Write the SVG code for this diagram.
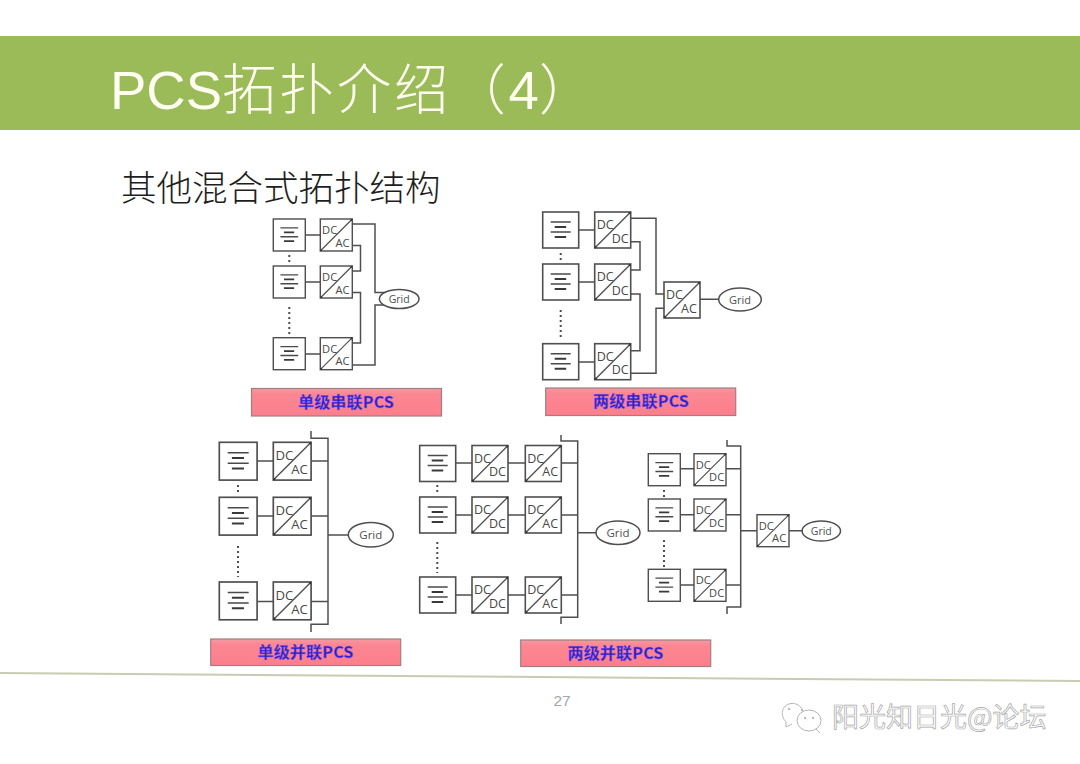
<svg xmlns="http://www.w3.org/2000/svg" width="1080" height="764" viewBox="0 0 1080 764">
<style>
.box{fill:#fff;stroke:#4f4f4f;stroke-width:1.6}
.c{stroke:#4f4f4f;stroke-width:1.5;fill:none}
.d{stroke:#4f4f4f;stroke-width:2;fill:none;stroke-dasharray:2 3}
.diag{stroke:#4f4f4f;stroke-width:1.3;fill:none}
.t{font-family:"Open Sans","Liberation Sans",sans-serif;font-size:12.500px;fill:#484848}
.g{font-family:"Open Sans","Liberation Sans",sans-serif;fill:#4f4f4f;text-anchor:middle}
.grid{fill:#fff;stroke:#4f4f4f;stroke-width:1.5}
.l{fill:url(#pk);stroke:#a07f80;stroke-width:1.200}
.lt{font-family:"Noto Sans CJK SC","Liberation Sans",sans-serif;font-weight:700;font-size:16px;letter-spacing:.2px;fill:#2a1fc8;text-anchor:middle;stroke:#a060e0;stroke-width:.4}
</style>
<defs>
<linearGradient id="pk" x1="0" y1="0" x2="0" y2="1"><stop offset="0" stop-color="#f39aa2"/><stop offset=".2" stop-color="#fb8793"/><stop offset="1" stop-color="#fd7e8c"/></linearGradient>
<g id="bat"><rect class="box" width="36" height="36"/><path stroke="#4a4a4a" stroke-width="1.5" fill="none" d="M8 10H28M8 20H28"/><path stroke="#3a3a3a" stroke-width="2" fill="none" d="M12 15H23.500M12 25H23.500"/></g>
<g id="conv"><rect class="box" width="36" height="36"/><path class="diag" d="M0 36L36 0"/><circle cx="1" cy="35" r="1.100" fill="#333"/><circle cx="35" cy="1" r="1.100" fill="#333"/></g>
</defs>
<rect width="1080" height="764" fill="#fff"/>
<rect y="36" width="1080" height="94" fill="#9bbb59"/>
<text x="110" y="109" font-family="'Liberation Sans','Noto Sans CJK SC',sans-serif" font-size="54.500" font-weight="400" fill="#fdfdf0">PCS<tspan font-family="'Noto Sans CJK SC',sans-serif" font-weight="300" letter-spacing="2.800">拓扑介绍（</tspan>4<tspan font-family="'Noto Sans CJK SC',sans-serif" font-weight="300">）</tspan></text>
<text x="121" y="201" font-family="'Noto Sans CJK SC',sans-serif" font-weight="300" font-size="35.500" fill="#1e1e1e">其他混合式拓扑结构</text>
<path d="M0 673L1080 681" stroke="#c9ccb2" stroke-width="2"/>
<text x="562" y="706" font-family="'Liberation Sans',sans-serif" font-size="15.500" fill="#a6a6a6" text-anchor="middle">27</text>

<g id="connectors">
<path class="c" d="M305 235H320M305 282H320M305 354H320M352 224H375V292.500H388M352 365H375V305H388M352 245.500H360.500V271H352M352 292.500H360.500V343H352"/>
<path class="d" d="M289.300 255V263M289.300 307V334"/>
<path class="c" d="M579 230H595M579 282H595M579 362H595M631 218.300H656V294H664M631 373.300H656V308.300H664M631 241.700H640V270H631M631 294H640V350.700H631M700 299.300H719"/>
<path class="d" d="M560.700 253V262M560.700 310V339"/>
<path class="c" d="M257 461H274M257 516H274M257 601.500H274M311 461H328M311 516H328M311 601.500H328M311 431V438.300H328V624.300H311V632M328 535H349"/>
<path class="d" d="M238 485V494M238 546V577"/>
<path class="c" d="M456 463H472M456 515H472M456 595H472M508 463H525M508 515H525M508 595H525M561 463H578M561 515H578M561 595H578M561 435V441H577.700V617.300H561V624M578 532.700H597"/>
<path class="d" d="M437.300 485V494M437.300 542V573"/>
<path class="c" d="M680 468.700H694M680 514.700H694M680 585H694M726 468.700H741M726 514.700H741M726 585H741M727 440V446H740.700V607H727V614M741 530.700H757M789 530.700H803"/>
<path class="d" d="M664 490V497M664 540V567"/>
</g>

<g id="series-single">
<g id="ss-b1" transform="translate(273.300,219) scale(.889)"><use href="#bat"/></g>
<g id="ss-b2" transform="translate(273.300,266) scale(.889)"><use href="#bat"/></g>
<g id="ss-b3" transform="translate(273.300,337.700) scale(.889)"><use href="#bat"/></g>
<g id="ss-c1" transform="translate(320.300,219) scale(.889)"><use href="#conv"/><text class="t" x="2" y="17">DC</text><text class="t" x="17" y="31">AC</text></g>
<g id="ss-c2" transform="translate(320.300,266) scale(.889)"><use href="#conv"/><text class="t" x="2" y="17">DC</text><text class="t" x="17" y="31">AC</text></g>
<g id="ss-c3" transform="translate(320.300,337.700) scale(.889)"><use href="#conv"/><text class="t" x="2" y="17">DC</text><text class="t" x="17" y="31">AC</text></g>
<g id="ss-grid"><ellipse class="grid" cx="399.200" cy="299" rx="19.800" ry="9.500"/><text class="g" x="399.200" y="302.700" font-size="10.500">Grid</text></g>
<g id="ss-label"><rect class="l" x="251.500" y="388.500" width="190" height="27.500"/><text class="lt" x="346" y="408">单级串联PCS</text></g>
</g>

<g id="series-double">
<g id="sd-b1" transform="translate(542.700,212)"><use href="#bat"/></g>
<g id="sd-b2" transform="translate(542.700,264)"><use href="#bat"/></g>
<g id="sd-b3" transform="translate(542.700,343.700)"><use href="#bat"/></g>
<g id="sd-c1" transform="translate(594.700,212)"><use href="#conv"/><text class="t" x="2" y="17">DC</text><text class="t" x="17" y="30.500">DC</text></g>
<g id="sd-c2" transform="translate(594.700,264)"><use href="#conv"/><text class="t" x="2" y="17">DC</text><text class="t" x="17" y="30.500">DC</text></g>
<g id="sd-c3" transform="translate(594.700,343.700)"><use href="#conv"/><text class="t" x="2" y="17">DC</text><text class="t" x="17" y="30.500">DC</text></g>
<g id="sd-c4" transform="translate(664,282)"><use href="#conv"/><text class="t" x="2" y="17">DC</text><text class="t" x="17" y="30.500">AC</text></g>
<g id="sd-grid"><ellipse class="grid" cx="740" cy="299.500" rx="21.300" ry="11.500"/><text class="g" x="740" y="303.500" font-size="11">Grid</text></g>
<g id="sd-label"><rect class="l" x="545.700" y="388" width="190" height="27.500"/><text class="lt" x="641" y="407">两级串联PCS</text></g>
</g>

<g id="parallel-single">
<g id="ps-b1" transform="translate(219.300,442.300) scale(1.050)"><use href="#bat"/></g>
<g id="ps-b2" transform="translate(219.300,497.300) scale(1.050)"><use href="#bat"/></g>
<g id="ps-b3" transform="translate(219.300,582) scale(1.050)"><use href="#bat"/></g>
<g id="ps-c1" transform="translate(273.300,442.300) scale(1.050)"><use href="#conv"/><text class="t" x="2" y="17">DC</text><text class="t" x="17" y="30.500">AC</text></g>
<g id="ps-c2" transform="translate(273.300,497.300) scale(1.050)"><use href="#conv"/><text class="t" x="2" y="17">DC</text><text class="t" x="17" y="30.500">AC</text></g>
<g id="ps-c3" transform="translate(273.300,582) scale(1.050)"><use href="#conv"/><text class="t" x="2" y="17">DC</text><text class="t" x="17" y="30.500">AC</text></g>
<g id="ps-grid"><ellipse class="grid" cx="370.800" cy="534.700" rx="22.500" ry="12.300"/><text class="g" x="370.800" y="539" font-size="11.500">Grid</text></g>
<g id="ps-label"><rect class="l" x="210.700" y="639" width="190" height="26.500"/><text class="lt" x="305.500" y="658">单级并联PCS</text></g>
</g>

<g id="parallel-double">
<g id="pd-b1" transform="translate(419.700,445.500)"><use href="#bat"/></g>
<g id="pd-b2" transform="translate(419.700,497)"><use href="#bat"/></g>
<g id="pd-b3" transform="translate(419.700,577)"><use href="#bat"/></g>
<g id="pd-c1" transform="translate(472,445.500)"><use href="#conv"/><text class="t" x="2" y="17">DC</text><text class="t" x="17" y="30.500">DC</text></g>
<g id="pd-c2" transform="translate(472,497)"><use href="#conv"/><text class="t" x="2" y="17">DC</text><text class="t" x="17" y="30.500">DC</text></g>
<g id="pd-c3" transform="translate(472,577)"><use href="#conv"/><text class="t" x="2" y="17">DC</text><text class="t" x="17" y="30.500">DC</text></g>
<g id="pd-c4" transform="translate(525.300,445.500)"><use href="#conv"/><text class="t" x="2" y="17">DC</text><text class="t" x="17" y="30.500">AC</text></g>
<g id="pd-c5" transform="translate(525.300,497)"><use href="#conv"/><text class="t" x="2" y="17">DC</text><text class="t" x="17" y="30.500">AC</text></g>
<g id="pd-c6" transform="translate(525.300,577)"><use href="#conv"/><text class="t" x="2" y="17">DC</text><text class="t" x="17" y="30.500">AC</text></g>
<g id="pd-grid"><ellipse class="grid" cx="618" cy="532.700" rx="22" ry="11.700"/><text class="g" x="618" y="537" font-size="11.500">Grid</text></g>
<g id="pd-label"><rect class="l" x="520.700" y="640" width="190" height="26.500"/><text class="lt" x="615.500" y="659">两级并联PCS</text></g>
</g>

<g id="parallel-shared">
<g id="pc-b1" transform="translate(648.300,453.700) scale(.889)"><use href="#bat"/></g>
<g id="pc-b2" transform="translate(648.300,499) scale(.889)"><use href="#bat"/></g>
<g id="pc-b3" transform="translate(648.300,569.300) scale(.889)"><use href="#bat"/></g>
<g id="pc-c1" transform="translate(694,453.700) scale(.889)"><use href="#conv"/><text class="t" x="2" y="17">DC</text><text class="t" x="17" y="31">DC</text></g>
<g id="pc-c2" transform="translate(694,499) scale(.889)"><use href="#conv"/><text class="t" x="2" y="17">DC</text><text class="t" x="17" y="31">DC</text></g>
<g id="pc-c3" transform="translate(694,569.300) scale(.889)"><use href="#conv"/><text class="t" x="2" y="17">DC</text><text class="t" x="17" y="31">DC</text></g>
<g id="pc-c4" transform="translate(757,514.700) scale(.889)"><use href="#conv"/><text class="t" x="2" y="17">DC</text><text class="t" x="17" y="31">AC</text></g>
<g id="pc-grid"><ellipse class="grid" cx="821.300" cy="531" rx="19.200" ry="10"/><text class="g" x="821.300" y="534.500" font-size="10.500">Grid</text></g>
</g>

<g id="watermark">
<g fill="none" stroke="#b5b5b5" stroke-width="1">
<path d="M786 722C780 716 781 705 791 703.500C798 703 802 707 803 712M786 722L786 727L792 724"/>
<ellipse cx="809" cy="720.500" rx="12" ry="10.500" fill="#fff"/><path d="M816 729L820 733"/>
</g>
<g fill="#bbb"><circle cx="789" cy="709" r="1.200"/><circle cx="802" cy="710" r="1.200"/><circle cx="805" cy="718" r="1.200"/><circle cx="813" cy="718" r="1.200"/></g>
<text x="832" y="727" font-family="'Noto Sans CJK SC',sans-serif" font-size="27" fill="#fff" stroke="#a8a8a8" stroke-width=".7">阳光知日光@论坛</text>
</g>
</svg>
